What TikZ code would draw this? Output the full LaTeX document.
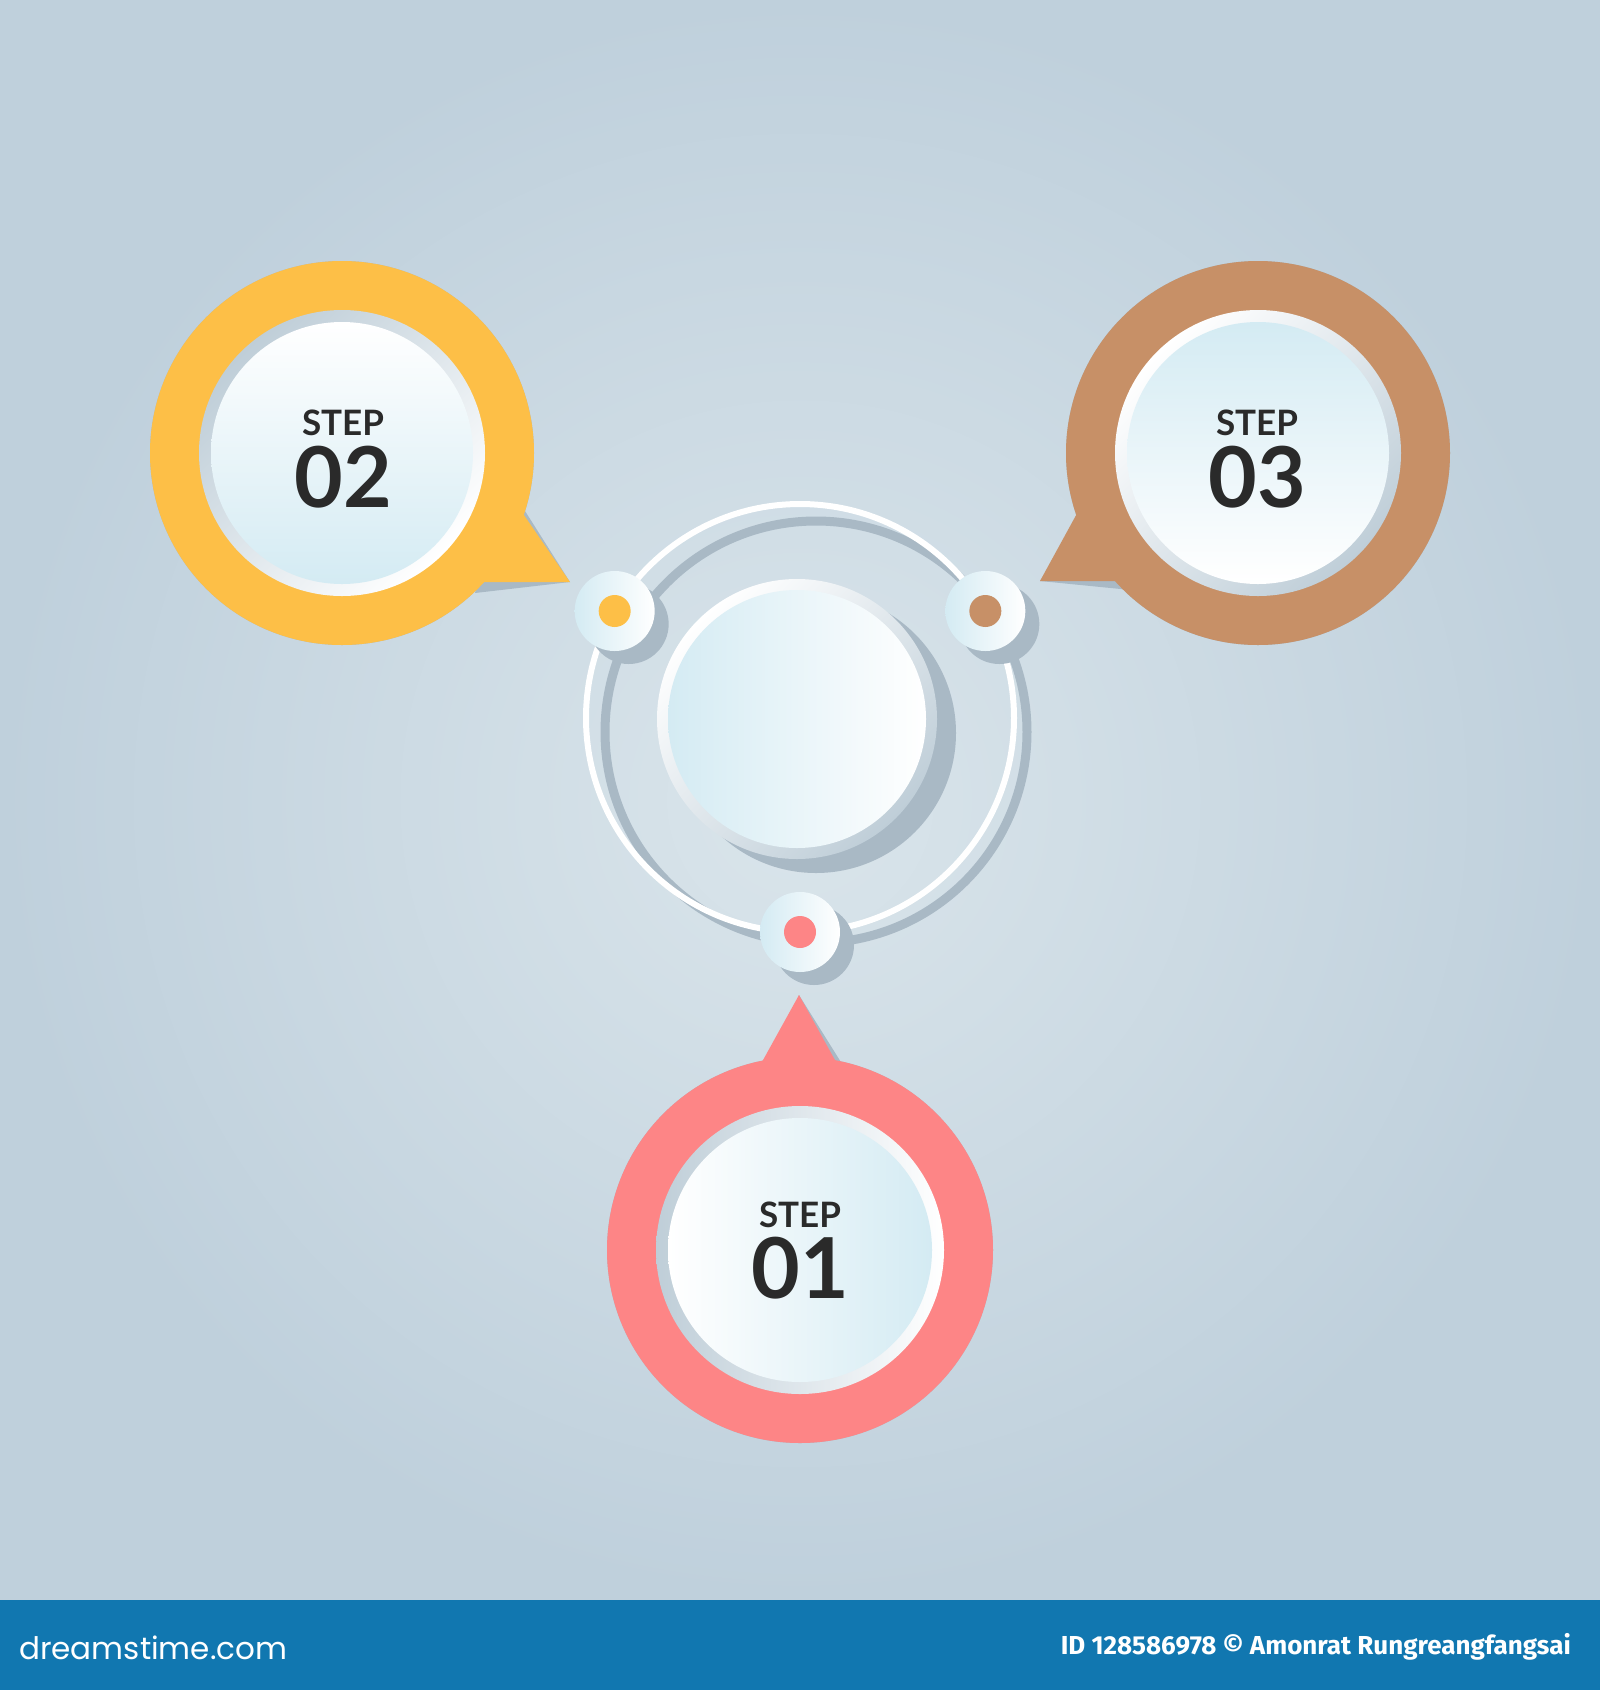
\documentclass[tikz,border=0pt]{standalone}
\usepackage{fontspec}
\setmainfont{Lato}
\newfontfamily\creditfont{Fira Sans}
\newfontfamily\logofont{Poppins}
\usetikzlibrary{positioning}

\definecolor{bgout}{HTML}{BFD0DC}
\definecolor{bgin}{HTML}{DAE5EB}
\definecolor{shadowgray}{HTML}{A9B9C5}
\definecolor{stepyellow}{HTML}{FDBF47}
\definecolor{stepbrown}{HTML}{C79067}
\definecolor{steppink}{HTML}{FD8586}
\definecolor{paleblue}{HTML}{D4EBF3}
\definecolor{rimgray}{HTML}{BFCED8}
\definecolor{inkdark}{HTML}{2A2A2A}
\definecolor{barblue}{HTML}{1177B0}

\begin{document}
\begin{tikzpicture}[x=1pt,y=-1pt,
  steplbl/.style={font=\fontsize{35}{35}\selectfont\bfseries, text=inkdark, inner sep=0pt},
  stepnum/.style={font=\fontsize{84}{84}\selectfont\bfseries, text=inkdark, inner sep=0pt},
  rim/.style={top color=rimgray, bottom color=white, shading angle=#1},
  face/.style={top color=white, bottom color=paleblue, shading angle=#1}]
  \useasboundingbox (0,0) rectangle (1600,1690);
  \shade[inner color=bgin, outer color=bgout] (0,0) rectangle (1600,1600);

  \coordinate (s1) at (800,1250);
  \coordinate (s2) at (342,453);
  \coordinate (s3) at (1258,453);
  \coordinate (ring) at (800,718);
  \coordinate (hub) at (797,719);
  \coordinate (t1) at (799,995);
  \coordinate (t2) at (570,582);
  \coordinate (t3) at (1040,581);

  % shadows of the step bubbles
  \begin{scope}[shift={(13,11)}, shadowgray]
    \fill (s1) circle[radius=193pt];
    \fill (t1) -- (752,1080) -- (846,1080) -- cycle;
    \fill (s2) circle[radius=192pt];
    \fill (t2) -- (462,582) -- (493,470) -- cycle;
    \fill (s3) circle[radius=192pt];
    \fill (t3) -- (1138,581) -- (1103,466) -- cycle;
  \end{scope}

  \fill[steppink] (s1) circle[radius=193pt];
  \fill[steppink] (t1) -- (752,1080) -- (846,1080) -- cycle;
  \fill[stepyellow] (s2) circle[radius=192pt];
  \fill[stepyellow] (t2) -- (462,582) -- (493,470) -- cycle;
  \fill[stepbrown] (s3) circle[radius=192pt];
  \fill[stepbrown] (t3) -- (1138,581) -- (1103,466) -- cycle;

  \shade[rim=90] (s1) circle[radius=144pt];
  \shade[face=90] (s1) circle[radius=132pt];
  \shade[rim=45] (s2) circle[radius=143pt];
  \shade[face=0] (s2) circle[radius=131pt];
  \shade[rim=-135] (s3) circle[radius=143pt];
  \shade[face=180] (s3) circle[radius=131pt];

  \node[steplbl, anchor=base] (l1) at (800,1227) {STEP};
  \node[stepnum, below=9pt of l1] (n1) {01};
  \node[steplbl, anchor=base] (l2) at (343,435) {STEP};
  \node[stepnum, below=10pt of l2] (n2) {02};
  \node[steplbl, anchor=base] (l3) at (1257,435) {STEP};
  \node[stepnum, below=10pt of l3] (n3) {03};

  % ring with its three joints
  \draw[shadowgray, line width=9pt] ([shift={(16,14)}]ring) circle[radius=211pt];
  \draw[white, line width=6pt] (ring) circle[radius=214pt];
  \fill[shadowgray] ([shift={(19,14)}]hub) circle[radius=140pt];
  \shade[rim=-135] (hub) circle[radius=140pt];
  \shade[face=-90] (hub) circle[radius=129pt];
  \foreach \a/\c/\n in {90/steppink/k1, 210/stepyellow/k2, 330/stepbrown/k3} {
    \coordinate (\n) at ([shift={(\a:214)}]ring);
    \fill[shadowgray] ([shift={(14,13)}]\n) circle[radius=40pt];
    \shade[left color=paleblue, right color=white] (\n) circle[radius=40pt];
    \fill[\c] (\n) circle[radius=16pt];
  }

  \fill[barblue] (0,1600) rectangle (1600,1690);
  \node[font=\logofont\fontsize{31}{31}\selectfont, text=white, anchor=west, inner sep=0pt] (logo) at (19,1648) {dreamstime.com};
  \node[font=\creditfont\fontsize{26}{26}\selectfont\bfseries, text=white, anchor=east, inner sep=0pt] (credit) at (1571,1647) {ID 128586978 © Amonrat Rungreangfangsai};
\end{tikzpicture}
\end{document}
